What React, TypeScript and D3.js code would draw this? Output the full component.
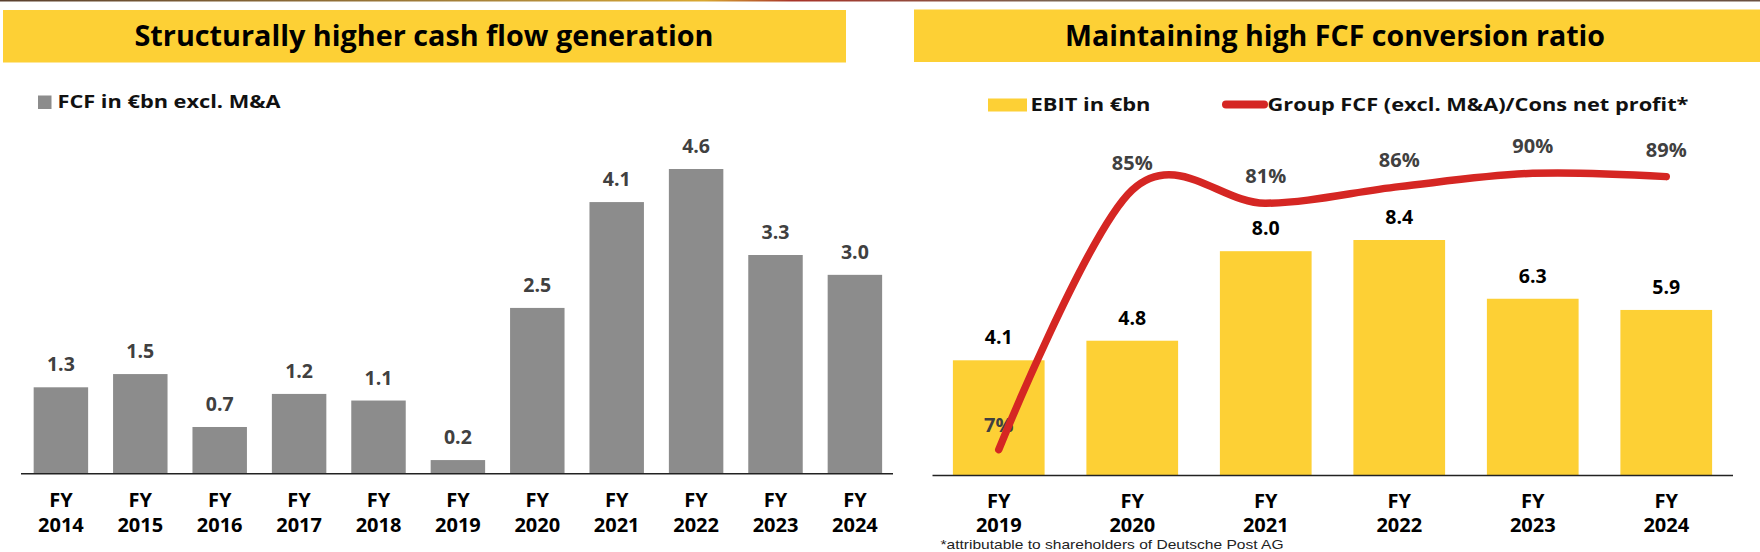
import React from "react"
import * as d3 from "d3"

// left panel: free cash flow
const fcfYears = ["2014", "2015", "2016", "2017", "2018", "2019", "2020", "2021", "2022", "2023", "2024"]
const fcfValues = [1.3, 1.5, 0.7, 1.2, 1.1, 0.2, 2.5, 4.1, 4.6, 3.3, 3.0]

// right panel: EBIT and conversion ratio
const ebitYears = ["2019", "2020", "2021", "2022", "2023", "2024"]
const ebitValues = [4.1, 4.8, 8.0, 8.4, 6.3, 5.9]
const conversionPct = [7, 85, 81, 86, 90, 89]

const YELLOW = "#FDD035"
const GREY = "#8C8C8C"
const RED = "#D52623"
const FONT = "'Open Sans', 'Noto Sans', sans-serif"

export default function App() {
    const W = 1760
    const H = 552

    const xLeft = d3.scaleBand<string>()
        .domain(fcfYears)
        .range([21.2, 894.6])
        .paddingInner(0.314)
        .paddingOuter(0.157)
    const yLeft = d3.scaleLinear().domain([0, 4.6]).range([473.3, 169])

    const xRight = d3.scaleBand<string>()
        .domain(ebitYears)
        .range([932, 1733])
        .paddingInner(0.313)
        .paddingOuter(0.1565)
    const yRight = d3.scaleLinear().domain([0, 8.4]).range([475, 240])
    const yPct = d3.scaleLinear().domain([0, 100]).range([473, 140])

    const cx = (x: d3.ScaleBand<string>, k: string) => (x(k) ?? 0) + x.bandwidth() / 2

    const linePath = d3.line<number>()
        .x((_, i) => cx(xRight, ebitYears[i]))
        .y(d => yPct(d))
        .curve(d3.curveCardinal.tension(0))(conversionPct) ?? ""

    return (
        <svg width={W} height={H} style={{ position: "absolute", left: 0, top: 0, background: "#fff" }}
             fontFamily={FONT}>
            <defs>
                <linearGradient id="strip" x1="0" x2="1" y1="0" y2="0">
                    <stop offset="0" stopColor="#5a4030" />
                    <stop offset="0.3" stopColor="#b08a3a" />
                    <stop offset="0.4" stopColor="#d9a830" />
                    <stop offset="0.45" stopColor="#a8342a" />
                    <stop offset="0.6" stopColor="#7a6450" />
                    <stop offset="1" stopColor="#6a5040" />
                </linearGradient>
            </defs>
            <rect x={0} y={0} width={W} height={1.5} fill="url(#strip)" />

            {/* title bars */}
            <rect x={3} y={10} width={843} height={52.5} fill={YELLOW} />
            <text x={424} y={45.5} textAnchor="middle" fontSize={28.5} fontWeight={700} fill="#000"
                  textLength={579} lengthAdjust="spacingAndGlyphs">
                Structurally higher cash flow generation
            </text>
            <rect x={914} y={9.5} width={846} height={52.5} fill={YELLOW} />
            <text x={1335} y={45.5} textAnchor="middle" fontSize={28.5} fontWeight={700} fill="#000"
                  textLength={540} lengthAdjust="spacingAndGlyphs">
                Maintaining high FCF conversion ratio
            </text>

            {/* left legend */}
            <rect x={38} y={95.5} width={13.5} height={13.5} fill={GREY} />
            <text x={57.5} y={108} fontSize={18.5} fontWeight={700} fill="#111"
                  textLength={223} lengthAdjust="spacingAndGlyphs">
                FCF in €bn excl. M&amp;A
            </text>

            {/* left bars */}
            {fcfValues.map((v, i) => (
                <g key={fcfYears[i]}>
                    <rect x={xLeft(fcfYears[i])} y={yLeft(v)} width={xLeft.bandwidth()}
                          height={yLeft(0) - yLeft(v)} fill={GREY} />
                    <text x={cx(xLeft, fcfYears[i])} y={yLeft(v) - 16} textAnchor="middle"
                          fontSize={19.5} fontWeight={700} fill="#404040">
                        {v.toFixed(1)}
                    </text>
                    <text x={cx(xLeft, fcfYears[i])} y={507} textAnchor="middle"
                          fontSize={20} fontWeight={700} fill="#000">FY</text>
                    <text x={cx(xLeft, fcfYears[i])} y={531.5} textAnchor="middle"
                          fontSize={20} fontWeight={700} fill="#000">{fcfYears[i]}</text>
                </g>
            ))}
            <line x1={21} x2={893} y1={yLeft(0) + 0.5} y2={yLeft(0) + 0.5} stroke="#222" strokeWidth={1.6} />

            {/* right legend */}
            <rect x={988} y={98.5} width={39} height={13} fill={YELLOW} />
            <text x={1030.5} y={110.5} fontSize={18.5} fontWeight={700} fill="#111"
                  textLength={120} lengthAdjust="spacingAndGlyphs">
                EBIT in €bn
            </text>
            <line x1={1226} x2={1264} y1={104.5} y2={104.5} stroke={RED} strokeWidth={8} strokeLinecap="round" />
            <text x={1267.5} y={110.5} fontSize={18.5} fontWeight={700} fill="#111"
                  textLength={421} lengthAdjust="spacingAndGlyphs">
                Group FCF (excl. M&amp;A)/Cons net profit*
            </text>

            {/* right bars */}
            {ebitValues.map((v, i) => (
                <g key={ebitYears[i]}>
                    <rect x={xRight(ebitYears[i])} y={yRight(v)} width={xRight.bandwidth()}
                          height={yRight(0) - yRight(v)} fill={YELLOW} />
                    <text x={cx(xRight, ebitYears[i])} y={yRight(v) - 16} textAnchor="middle"
                          fontSize={19.5} fontWeight={700} fill="#000">
                        {v.toFixed(1)}
                    </text>
                    <text x={cx(xRight, ebitYears[i])} y={507.5} textAnchor="middle"
                          fontSize={20} fontWeight={700} fill="#000">FY</text>
                    <text x={cx(xRight, ebitYears[i])} y={531.5} textAnchor="middle"
                          fontSize={20} fontWeight={700} fill="#000">{ebitYears[i]}</text>
                </g>
            ))}
            <line x1={932.5} x2={1733} y1={yRight(0) + 0.5} y2={yRight(0) + 0.5} stroke="#222" strokeWidth={1.6} />

            {/* conversion ratio line */}
            {conversionPct.map((p, i) => (
                <text key={"p" + i} x={cx(xRight, ebitYears[i])} y={yPct(p) - (i === 0 ? 18 : 20)}
                      textAnchor="middle" fontSize={20} fontWeight={700} fill="#404040">
                    {p}%
                </text>
            ))}
            <path d={linePath} fill="none" stroke={RED} strokeWidth={7.5} strokeLinecap="round" />

            <text x={940.5} y={549} fontSize={13.5} fill="#222" fontFamily="'Liberation Sans', Arial, sans-serif"
                  textLength={343} lengthAdjust="spacingAndGlyphs">
                *attributable to shareholders of Deutsche Post AG
            </text>
        </svg>
    )
}
